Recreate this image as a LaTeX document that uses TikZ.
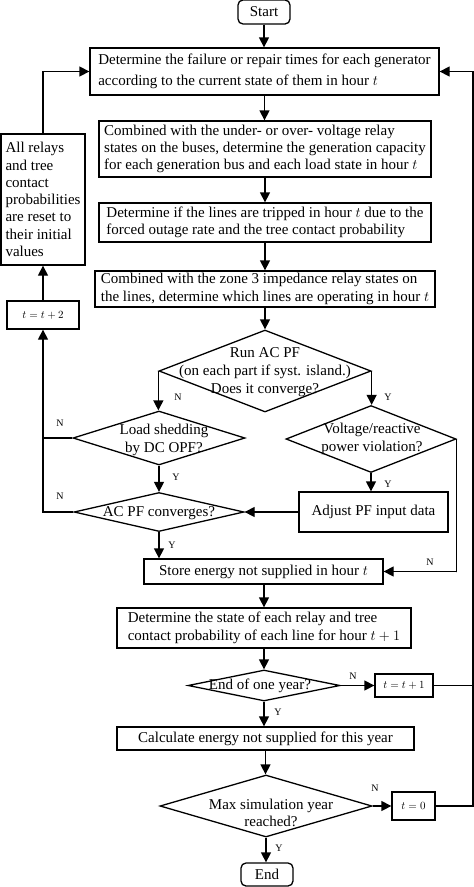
\documentclass[tikz,border=0pt]{standalone}
\usepackage{fontspec}
\setmainfont{Liberation Serif}
\usetikzlibrary{shapes.geometric,arrows.meta}
\begin{document}
\begin{tikzpicture}[x=1pt,y=-1pt,
  every node/.style={inner sep=0pt},
  txt/.style={font=\fontsize{15}{17.3}\selectfont},
  box/.style={draw, line width=1.3pt, align=left, txt},
  term/.style={draw, line width=1.3pt, rounded corners=5pt, txt},
  dia/.style={draw, line width=1.3pt, diamond, aspect=2},
  lab/.style={font=\fontsize{10}{11}\selectfont},
  small/.style={draw, line width=1.3pt, font=\fontsize{10.5}{12}\selectfont},
  arr/.style={line width=1.3pt, -{Triangle[length=10pt,width=10pt]}},
  ln/.style={line width=1.3pt}]
\useasboundingbox (0,0) rectangle (474,887);

\node[term, minimum width=52pt, minimum height=24pt] (start) at (264,12) {Start};
\node[box, minimum width=349pt, minimum height=47pt, font=\fontsize{15}{20.7}\selectfont] (box1) at (264.5,71.5)
  {Determine the failure or repair times for each generator\\according to the current state of them in hour $t$};
\node[box, minimum width=332pt, minimum height=56pt] (box2) at (265,149)
  {Combined with the under- or over- voltage relay\\states on the buses, determine the generation capacity\\for each generation bus and each load state in hour $t$};
\node[box, minimum width=332pt, minimum height=39pt] (box3) at (265,222.5)
  {Determine if the lines are tripped in hour $t$ due to the\\forced outage rate and the tree contact probability};
\node[box, minimum width=340pt, minimum height=36pt, font=\fontsize{15}{18.5}\selectfont] (box4) at (265,289)
  {Combined with the zone 3 impedance relay states on\\the lines, determine which lines are operating in hour $t$};
\node[box, minimum width=84pt, minimum height=131pt] (reset) at (43,199.5)
  {All relays\\and tree\\contact\\probabilities\\are reset to\\their initial\\values};
\node[small, minimum width=72pt, minimum height=28pt] (t2) at (43,315) {$t=t+2$};

\node[dia, minimum width=212pt, minimum height=82pt] (d1) at (265,371) {};
\node[align=center, font=\fontsize{15}{18}\selectfont] (d1t) at (265,372) {Run AC PF\\(on each part if syst. island.)\\Does it converge?};
\node[dia, minimum width=172pt, minimum height=54pt] (d2) at (159,438) {};
\node[txt, align=center] (d2t) at (164,440) {Load shedding\\by DC OPF?};
\node[dia, minimum width=170pt, minimum height=67pt] (d3) at (371,439) {};
\node[align=center, font=\fontsize{15}{18}\selectfont] (d3t) at (372,439) {Voltage/reactive\\power violation?};
\node[dia, minimum width=170pt, minimum height=39pt] (d4) at (159,512) {};
\node[txt] (d4t) at (159,513) {AC PF converges?};
\node[box, minimum width=149pt, minimum height=40pt] (adjust) at (373.5,512) {Adjust PF input data};

\node[box, minimum width=239pt, minimum height=25pt] (store) at (263.5,571.5) {Store energy not supplied in hour $t$};
\node[box, minimum width=294pt, minimum height=40pt, font=\fontsize{15}{18.3}\selectfont] (state) at (264,628)
  {Determine the state of each relay and tree\\contact probability of each line for hour $t+1$};
\node[dia, minimum width=152pt, minimum height=31pt] (d5) at (264,685.5) {};
\node[txt] (d5t) at (260,685.5) {End of one year?};
\node[small, minimum width=58pt, minimum height=23pt] (t1) at (404,685.5) {$t=t+1$};
\node[box, minimum width=297pt, minimum height=23pt] (calc) at (265.5,738.5) {Calculate energy not supplied for this year};
\node[dia, minimum width=212pt, minimum height=62pt] (d6) at (266,806) {};
\node[txt, align=center] (d6t) at (271,813) {Max simulation year\\reached?};
\node[small, minimum width=43pt, minimum height=28pt] (t0) at (413.5,806) {$t=0$};
\node[term, minimum width=52pt, minimum height=23pt] (end) at (267,874.5) {End};

\coordinate (rl) at (473,0);

% connectors
\draw[arr] (start.south) -- (start.south |- box1.north);
\draw[arr] (box1.south) -- (box1.south |- box2.north);
\draw[arr] (box2.south) -- (box2.south |- box3.north);
\draw[arr] (box3.south) -- (box3.south |- box4.north);
\draw[arr] (box4.south) -- (box4.south |- d1.north);
\draw[arr] (reset.north) |- (box1.west);
\draw[arr] (t2.north) -- (reset.south);
\draw[arr] (d4.west) -| (t2.south);
\draw[ln] (d2.west) -- (d2.west -| t2.south);
\draw[arr] (d1.west) -- (d1.west |- d2.north);
\draw[arr] (d1.east) -- (d1.east |- d3.north);
\draw[arr] (d2.south) -- (d4.north);
\draw[arr] (d3.south) -- (d3.south |- adjust.north);
\draw[arr] (adjust.west) -- (d4.east);
\draw[arr] (d3.east) -- ++(0,133) |- (store.east);
\draw[arr] (d4.south) -- (d4.south |- store.north);
\draw[arr] (store.south -| state.north) -- (state.north);
\draw[arr] (state.south) -- (d5.north);
\draw[arr] (d5.east) -- (t1.west);
\draw[ln] (t1.east) -- (t1.east -| rl);
\draw[arr] (d5.south) -- (d5.south |- calc.north);
\draw[arr] (calc.south) -- (calc.south |- d6.north);
\draw[arr] (d6.east) -- (t0.west);
\draw[arr] (t0.east) -| (rl |- box1.east) -- (box1.east);
\draw[arr] (d6.south) -- (d6.south |- end.north);

% labels
\node[lab] (n1) at (178,397) {N};
\node[lab] (y1) at (388,397) {Y};
\node[lab] (n2) at (60,423) {N};
\node[lab] (n3) at (60,496) {N};
\node[lab] (y2) at (176,477) {Y};
\node[lab] (y3) at (388,484) {Y};
\node[lab] (y4) at (172,545) {Y};
\node[lab] (n4) at (430,562) {N};
\node[lab] (n5) at (353,676) {N};
\node[lab] (y5) at (278,712) {Y};
\node[lab] (n6) at (375,788) {N};
\node[lab] (y6) at (279,848) {Y};
\end{tikzpicture}
\end{document}
